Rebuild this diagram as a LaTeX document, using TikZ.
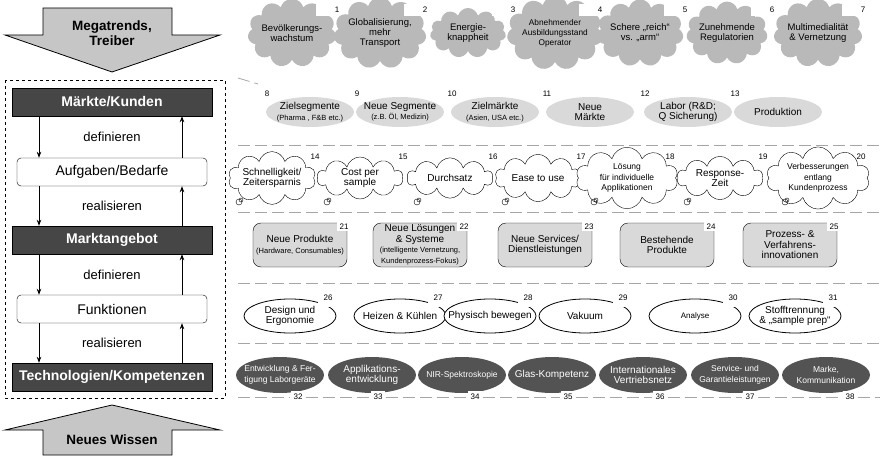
\documentclass[tikz,border=0pt]{standalone}
\usepackage{fontspec}
\setmainfont{Liberation Sans}
\usetikzlibrary{shapes.symbols,shapes.geometric,arrows.meta}
\begin{document}
\begin{tikzpicture}[x=1pt,y=-1pt,
  t/.style={font=\fontsize{10}{10.5}\selectfont,align=center},
  num/.style={font=\fontsize{8}{8}\selectfont,inner sep=0pt},
  bigarrow/.style={draw=black,fill=gray!45,line width=0.8pt},
  darkbox/.style={draw=black,fill=gray!55!black,text=white,font=\fontsize{14}{15}\bfseries\selectfont,minimum width=200pt,minimum height=28pt,inner sep=0pt},
  whitebox/.style={draw=black,rounded corners=4pt,fill=white,font=\fontsize{14}{15}\selectfont,minimum width=190pt,minimum height=28pt,inner sep=0pt},
  trend/.style={cloud,cloud puffs=11,fill=gray!55,font=\fontsize{9.5}{10}\selectfont,align=center,minimum width=76pt,minimum height=50pt,inner sep=-2pt,aspect=1.5},
  segfill/.style={fill=gray!30},
  need/.style={cloud,cloud puffs=10,draw=black,fill=white,t,minimum width=86pt,minimum height=38pt,inner sep=0pt,aspect=2.4},
  offer/.style={draw=black,rounded corners=8pt,fill=gray!30,t,minimum width=94pt,minimum height=44pt,inner sep=0pt},
  funcline/.style={draw=black,fill=white,line width=0.8pt},
  techfill/.style={fill=gray!65!black},
  sep/.style={dashed,dash pattern=on 12pt off 5pt,gray!70,line width=0.8pt},
  flow/.style={-{Stealth[length=6pt]},line width=0.8pt}]
\useasboundingbox (0,0) rectangle (880,457);
\draw[bigarrow] (43,8) -- (172,8) -- (172,35) -- (220,35) -- (112,72) -- (5,35) -- (43,35) -- cycle;
\node[font=\fontsize{13.5}{15}\bfseries\selectfont,align=center] (mega) at (112,33) {Megatrends,\\Treiber};
\draw[bigarrow] (112,405) -- (220,430) -- (172,430) -- (172,455) -- (43,455) -- (43,430) -- (5,430) -- cycle;
\node[font=\fontsize{13.5}{15}\bfseries\selectfont] (wissen) at (112,440) {Neues Wissen};
\draw[dashed,line width=0.8pt] (5,80) rectangle (225,398);
\node[darkbox] (mk) at (112,102) {Märkte/Kunden};
\node[whitebox] (ab) at (112,172) {Aufgaben/Bedarfe};
\node[darkbox] (ma) at (112,240) {Marktangebot};
\node[whitebox] (fu) at (112,309) {Funktionen};
\node[darkbox] (tk) at (112,377) {Technologien/Kompetenzen};
\foreach \a/\b/\l in {mk/ab/definieren,ab/ma/realisieren,ma/fu/definieren,fu/tk/realisieren}{
  \draw[flow] (\a.south -| 39,0) -- (\b.north -| 39,0);
  \draw[flow] (\b.north -| 182,0) -- (\a.south -| 182,0);
  \path (\a.south) -- node[font=\fontsize{13}{14}\selectfont] {\l} (\b.north);
}
\draw[sep] (238,78) -- (258,84);
\foreach \y in {145,212,283,343}{\draw[sep] (238,\y) -- (880,\y);}
\foreach \x/\n/\txt in {292/1/{Bevölkerungs-\\wachstum},380/2/{Globalisierung,\\mehr\\Transport},468/3/{Energie-\\knappheit},555/4/{{\fontsize{8.3}{9}\selectfont Abnehmender}\\{\fontsize{8.3}{9}\selectfont Ausbildungsstand}\\{\fontsize{8.3}{9}\selectfont Operator}},640/5/{Schere „reich“\\vs. „arm“},727/6/{Zunehmende\\Regulatorien},818/7/{Multimedialität\\\& Vernetzung}}{
  \node[trend] (r1n\n) at (\x,33) {\txt};
  \fill[white] (\x+24,4) rectangle (\x+50,16);
  \node[num] (r1l\n) at (\x+45,10) {\n};
}
\foreach \x/\n/\txt in {310/8/{Zielsegmente\\{\fontsize{7.5}{8}\selectfont(Pharma , F\&B etc.)}},400/9/{Neue Segmente\\{\fontsize{7.5}{8}\selectfont(z.B. Öl, Medizin)}},495/10/{Zielmärkte\\{\fontsize{7.5}{8}\selectfont(Asien, USA etc.)}},590/11/{Neue\\Märkte},688/12/{Labor (R\&D;\\Q Sicherung)},778/13/{Produktion}}{
  \fill[segfill] (\x,112) ellipse (44 and 15);
  \node[t] (r2n\n) at (\x,112) {\txt};
  \node[num] (r2l\n) at (\x-43,94) {\n};
}
\foreach \x/\n/\txt in {272/14/{Schnelligkeit/\\Zeitersparnis},360/15/{Cost per\\sample},450/16/{Durchsatz},538/17/{Ease to use},627/18/{{\fontsize{8.5}{9}\selectfont Lösung}\\{\fontsize{8.5}{9}\selectfont für individuelle}\\{\fontsize{8.5}{9}\selectfont Applikationen}},720/19/{Response-\\Zeit},818/20/{{\fontsize{8.5}{9}\selectfont Verbesserungen}\\{\fontsize{8.5}{9}\selectfont entlang}\\{\fontsize{8.5}{9}\selectfont Kundenprozess}}}{
  \node[need] (r3n\n) at (\x,178) {\txt};
  \node[num] (r3l\n) at (\x+43,157) {\n};
  \draw (\x-33,202) circle (3pt);
  \draw (\x-31,200) circle (2pt);
}
\foreach \x/\n/\txt in {300/21/{Neue Produkte\\{\fontsize{7.5}{8}\selectfont(Hardware, Consumables)}},420/22/{Neue Lösungen\\\& Systeme\\{\fontsize{7.5}{8}\selectfont(intelligente Vernetzung,}\\{\fontsize{7.5}{8}\selectfont Kundenprozess-Fokus)}},545/23/{Neue Services/\\Dienstleistungen},667/24/{Bestehende\\Produkte},790/25/{Prozess- \&\\Verfahrens-\\innovationen}}{
  \node[offer] (r4n\n) at (\x,245) {\txt};
  \fill[white] (\x+37,221) rectangle (\x+52,231);
  \node[num] (r4l\n) at (\x+44,227) {\n};
}
\foreach \x/\n/\txt in {290/26/{Design und\\Ergonomie},400/27/{Heizen \& Kühlen},490/28/{Physisch bewegen},585/29/{Vakuum},695/30/{{\fontsize{8}{9}\selectfont Analyse}},795/31/{Stofftrennung\\\& „sample prep“}}{
  \draw[funcline] (\x,316) ellipse (46 and 17);
  \fill[white] (\x+28,297) rectangle (\x+50,307);
  \node[t] (r5n\n) at (\x,316) {\txt};
  \node[num] (r5l\n) at (\x+38,298) {\n};
}
\foreach \x/\n/\nx/\txt in {280/32/298/{{\fontsize{8.5}{9}\selectfont Entwicklung \& Fer-}\\{\fontsize{8.5}{9}\selectfont tigung Laborgeräte}},372/33/378/{Applikations-\\entwicklung},462/34/475/{{\fontsize{8.5}{9}\selectfont NIR-Spektroskopie}},552/35/568/{Glas-Kompetenz},643/36/660/{Internationales\\Vertriebsnetz},735/37/750/{{\fontsize{8.5}{9}\selectfont Service- und}\\{\fontsize{8.5}{9}\selectfont Garantieleistungen}},826/38/850/{{\fontsize{8.5}{9}\selectfont Marke,}\\{\fontsize{8.5}{9}\selectfont Kommunikation}}}{
  \fill[techfill] (\x,375) ellipse (44 and 18);
  \node[t,text=white] (r6n\n) at (\x,375) {\txt};
  \node[num,fill=white,inner sep=3pt] (r6l\n) at (\nx,397) {\n};
}
\draw[sep] (238,397) -- (r6l32.west);
\foreach \a/\b in {r6l32/r6l33,r6l33/r6l34,r6l34/r6l35,r6l35/r6l36,r6l36/r6l37,r6l37/r6l38}{\draw[sep] (\a.east) -- (\b.west);}
\draw[sep] (r6l38.east) -- (880,397);
\end{tikzpicture}
\end{document}
